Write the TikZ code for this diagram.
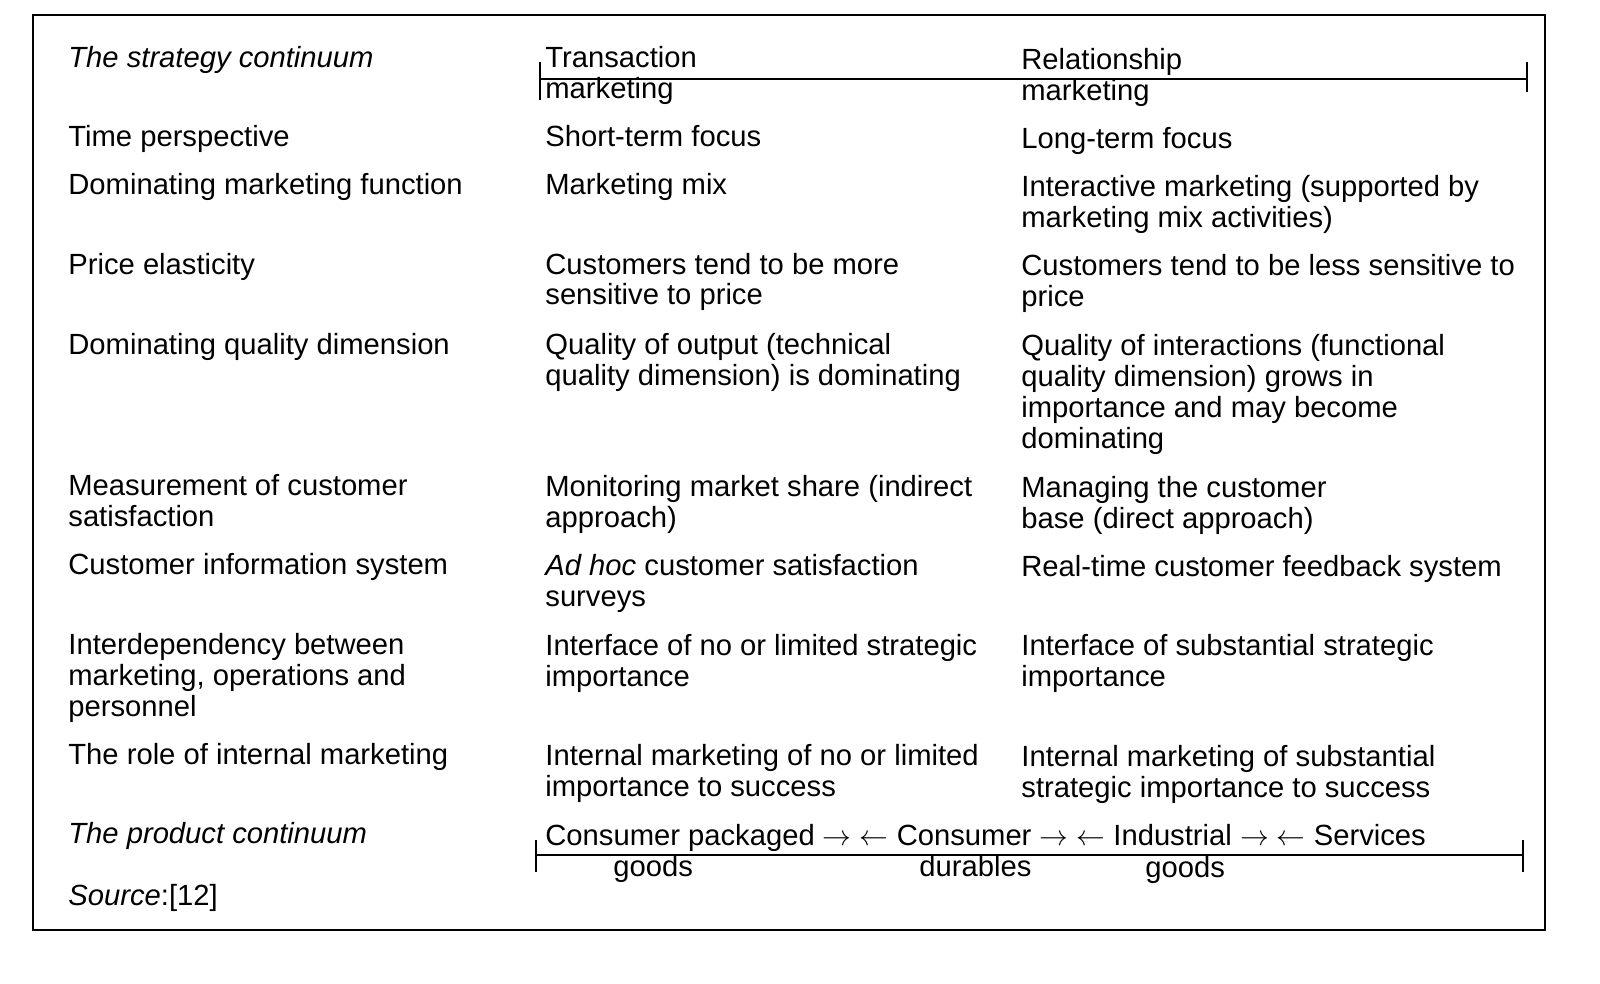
\documentclass[tikz,border=0pt]{standalone}
\usepackage{fontspec}
\setmainfont{Liberation Sans}
\newcommand{\ml}[1]{\begin{tabular}[t]{@{}l@{}}#1\end{tabular}}
\begin{document}
\begin{tikzpicture}[x=0.5pt,y=-0.5pt,
  txt/.style={anchor=base west,inner sep=0pt,font=\fontsize{14.6}{15.5}\selectfont},
  rule/.style={line width=0.6pt}]
\useasboundingbox (0,0) rectangle (1600,984);
\draw[line width=1.2pt] (33,15) rectangle (1545,930);
% header
\node[txt] (h1) at (68,68) {\itshape The strategy continuum};
\node[txt] (h2) at (545,68) {\ml{Transaction\\marketing}};
\node[txt] (h3) at (1021,70) {\ml{Relationship\\marketing}};
\coordinate (tl) at (540,79); \coordinate (tr) at (1527,79);
\draw[rule] (tl) -- (tr);
\draw[rule] (540,62) -- (540,100);
\draw[rule] (1527,62) -- (1527,92);
% rows
\node[txt] (a1) at (68,147) {Time perspective};
\node[txt] (a2) at (545,147) {Short-term focus};
\node[txt] (a3) at (1021,149) {Long-term focus};
\node[txt] (b1) at (68,195) {Dominating marketing function};
\node[txt] (b2) at (545,195) {Marketing mix};
\node[txt] (b3) at (1021,197) {\ml{Interactive marketing (supported by\\marketing mix activities)}};
\node[txt] (c1) at (68,274) {Price elasticity};
\node[txt] (c2) at (545,274) {\ml{Customers tend to be more\\sensitive to price}};
\node[txt] (c3) at (1021,276) {\ml{Customers tend to be less sensitive to\\price}};
\node[txt] (d1) at (68,354) {Dominating quality dimension};
\node[txt] (d2) at (545,354) {\ml{Quality of output (technical\\quality dimension) is dominating}};
\node[txt] (d3) at (1021,355) {\ml{Quality of interactions (functional\\quality dimension) grows in\\importance and may become\\dominating}};
\node[txt] (e1) at (68,495) {\ml{Measurement of customer\\satisfaction}};
\node[txt] (e2) at (545,496) {\ml{Monitoring market share (indirect\\approach)}};
\node[txt] (e3) at (1021,497) {\ml{Managing the customer\\base (direct approach)}};
\node[txt] (f1) at (68,574) {Customer information system};
\node[txt] (f2) at (545,575) {\ml{\textit{Ad hoc} customer satisfaction\\surveys}};
\node[txt] (f3) at (1021,576) {Real-time customer feedback system};
\node[txt] (g1) at (68,654) {\ml{Interdependency between\\marketing, operations and\\personnel}};
\node[txt] (g2) at (545,655) {\ml{Interface of no or limited strategic\\importance}};
\node[txt] (g3) at (1021,655) {\ml{Interface of substantial strategic\\importance}};
\node[txt] (i1) at (68,764) {The role of internal marketing};
\node[txt] (i2) at (545,765) {\ml{Internal marketing of no or limited\\importance to success}};
\node[txt] (i3) at (1021,766) {\ml{Internal marketing of substantial\\strategic importance to success}};
% product continuum
\node[txt] (p1) at (68,843) {\itshape The product continuum};
\node[txt] (p2) at (545,845) {Consumer packaged $\rightarrow$ $\leftarrow$ Consumer $\rightarrow$ $\leftarrow$ Industrial $\rightarrow$ $\leftarrow$ Services};
\node[txt] (q1) at (613,876) {goods};
\node[txt] (q2) at (919,876) {durables};
\node[txt] (q3) at (1145,877) {goods};
\coordinate (bl) at (536,855); \coordinate (br) at (1523,855);
\draw[rule] (bl) -- (br);
\draw[rule] (536,840) -- (536,872);
\draw[rule] (1523,840) -- (1523,872);
\node[txt] (src) at (68,905) {\textit{Source}:[12]};
\end{tikzpicture}
\end{document}
